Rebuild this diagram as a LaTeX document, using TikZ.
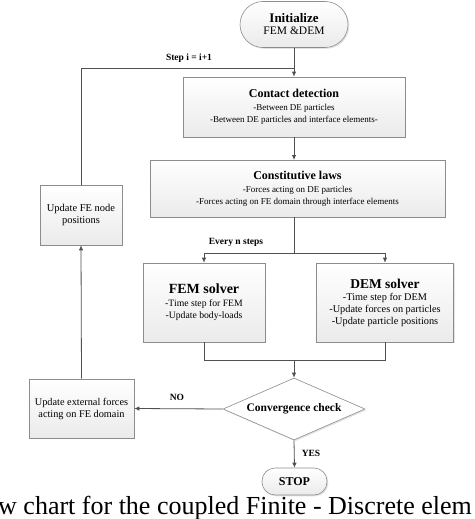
\documentclass[tikz,border=0pt]{standalone}
\usepackage{fontspec}
\setmainfont{Liberation Serif}
\usetikzlibrary{arrows.meta,shapes.geometric,shadows}
\definecolor{edgegray}{HTML}{8C8C8C}
\definecolor{linegray}{HTML}{505050}
\newcommand{\ttl}{\fontsize{12}{13}\selectfont\bfseries}
\newcommand{\bdy}{\fontsize{9}{11.5}\selectfont}
\begin{document}
\begin{tikzpicture}[x=1pt,y=-1pt,
  box/.style={draw=edgegray, line width=0.6pt, top color=white, bottom color=gray!16,
    drop shadow={shadow xshift=1.3pt, shadow yshift=-1.3pt, fill=gray!45},
    inner sep=1pt, align=center, anchor=center},
  term/.style={box, rounded corners=13pt},
  dec/.style={diamond, draw=edgegray, line width=0.6pt, fill=white, inner sep=0pt, aspect=2.3,
    drop shadow={shadow xshift=1.3pt, shadow yshift=-1.3pt, fill=gray!45}},
  conn/.style={draw=linegray, line width=0.8pt},
  arr/.style={conn, -{Latex[length=5pt,width=4.5pt]}},
  lbl/.style={font=\fontsize{9.5}{11}\selectfont\bfseries, inner sep=0pt}
]
\useasboundingbox (0,0) rectangle (474,519);
\begin{scope}
\clip (0,0) rectangle (474,519);

% nodes
\node[term, rounded corners=23pt, minimum width=108pt, minimum height=46pt] (init) at (294,24.5)
  {\fontsize{13}{14}\selectfont\bfseries Initialize\\[0pt]\fontsize{11.5}{13}\selectfont FEM \&DEM};
\node[box, minimum width=222pt, minimum height=60pt] (contact) at (294,107)
  {\ttl Contact detection\\[1pt]\bdy -Between DE particles\\\bdy -Between DE particles and interface elements-};
\node[box, minimum width=295pt, minimum height=57pt] (const) at (297.5,188.5)
  {\ttl Constitutive laws\\[1pt]\bdy -Forces acting on DE particles\\\bdy -Forces acting on FE domain through interface elements};
\node[box, minimum width=122pt, minimum height=79pt] (fem) at (204,302.5)
  {\fontsize{14}{15}\selectfont\bfseries FEM solver\\[1pt]\fontsize{9.7}{12.5}\selectfont -Time step for FEM\\\fontsize{9.7}{12.5}\selectfont -Update body-loads};
\node[box, minimum width=137pt, minimum height=79pt] (dem) at (385,302.5)
  {\fontsize{13.5}{14.5}\selectfont\bfseries DEM solver\\[0pt]\fontsize{10.3}{12.3}\selectfont -Time step for DEM\\\fontsize{10.3}{12.3}\selectfont -Update forces on particles\\\fontsize{10.3}{12.3}\selectfont -Update particle positions};
\node[dec, minimum width=142pt, minimum height=62pt] (dia) at (294,409) {};
\node[font=\fontsize{11.5}{13}\selectfont\bfseries] (diat) at (294,409) {Convergence check};
\node[box, minimum width=105pt, minimum height=59pt] (ext) at (81.5,408.5)
  {\fontsize{10.3}{13}\selectfont Update external forces\\\fontsize{10.3}{13}\selectfont acting on FE domain};
\node[box, minimum width=82pt, minimum height=60pt] (fenode) at (81,215)
  {\fontsize{10.5}{13.5}\selectfont Update FE node\\\fontsize{10.5}{13.5}\selectfont positions};
\node[term, minimum width=65pt, minimum height=27pt] (stop) at (294.5,481.5)
  {\fontsize{12}{13}\selectfont\bfseries STOP};

% coordinates
\coordinate (mg) at (294,68);
\coordinate (sp) at (294,253);
\coordinate (jn) at (294,360);

% connectors
\draw[arr] (init.south) -- (contact.north);
\draw[conn] (fenode.north) |- (mg);
\draw[arr] (contact.south) -- (294,160);
\draw[conn] (const.south -| sp) -- (sp);
\draw[arr] (sp) -| (fem.north);
\draw[arr] (sp) -| (dem.north);
\draw[conn] (fem.south) |- (jn);
\draw[conn] (dem.south) |- (jn);
\draw[arr] (jn) -- (dia.north);
\draw[arr] (dia.west) -- (ext.east);
\draw[arr] (ext.north) -- (fenode.south);
\draw[arr] (dia.south) -- (stop.north);

% labels
\node[lbl] (lstep) at (189,58) {Step i = i+1};
\node[lbl] (levery) at (236,242) {Every n steps};
\node[lbl] (lno) at (177,397) {NO};
\node[lbl] (lyes) at (311,453) {YES};

% caption (cut off)
\node[anchor=base west, inner sep=0pt, font=\fontsize{26}{28}\selectfont] (cap) at (-2,514)
  {w chart for the coupled Finite - Discrete elem};
\end{scope}
\end{tikzpicture}
\end{document}
